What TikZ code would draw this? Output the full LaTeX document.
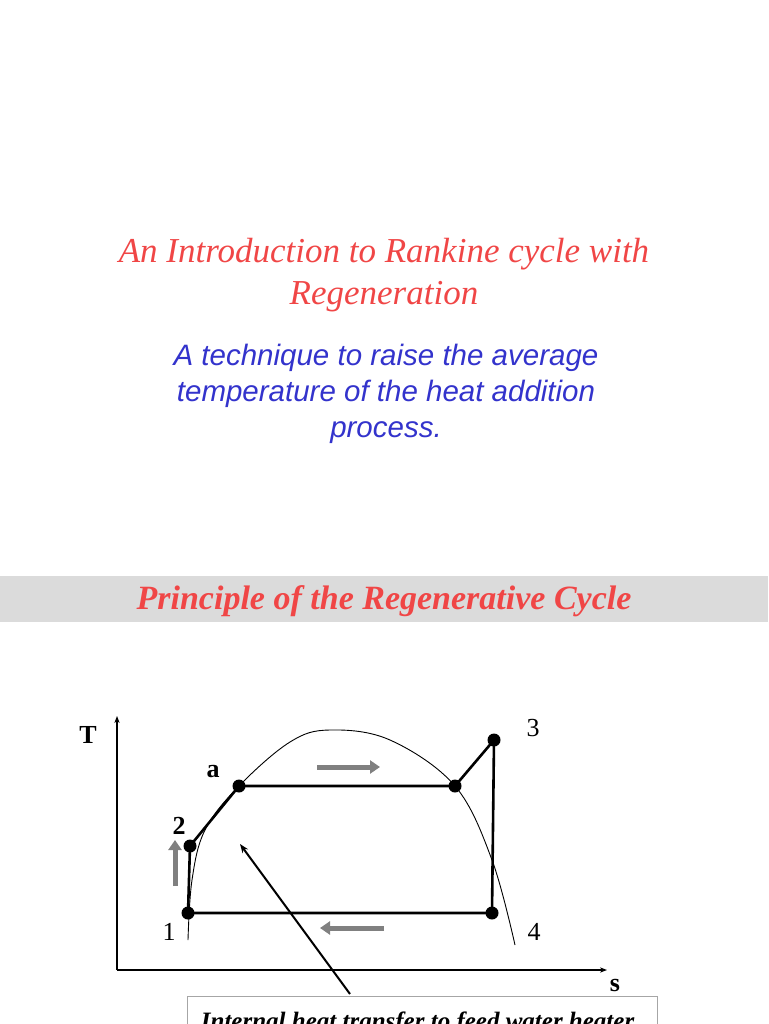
\documentclass[tikz,border=0pt]{standalone}
\usepackage{fontspec}
\setmainfont{Liberation Serif}
\newfontfamily\arialf{Liberation Sans}
\usetikzlibrary{arrows.meta}
\definecolor{tred}{RGB}{240,70,70}
\definecolor{tblue}{RGB}{51,51,204}
\begin{document}
\begin{tikzpicture}[x=1pt,y=-1pt,
  pt/.style={circle,fill=black,inner sep=0pt,minimum size=13pt},
  lab/.style={font=\fontsize{26}{28}\selectfont\bfseries},
  labn/.style={font=\fontsize{26}{28}\selectfont},
  garr/.style={draw=gray,line width=5pt,-{Triangle[length=10pt,width=13pt]}},
  cyc/.style={line width=2.6pt}]
\useasboundingbox (0,0) rectangle (768,1024);
\fill[gray!28] (0,576) rectangle (768,622);
\node[tred,font=\fontsize{35}{42}\selectfont\itshape,align=center] (t1) at (384,275) {An Introduction to Rankine cycle with\\Regeneration};
\node[tblue,font=\arialf\fontsize{29.5}{36}\selectfont\itshape,align=center] (t2) at (386,394) {A technique to raise the average\\temperature of the heat addition\\process.};
\node[tred,font=\fontsize{34}{38}\selectfont\bfseries\itshape] (t3) at (384,601) {Principle of the Regenerative Cycle};
% axes
\coordinate (o) at (117,970);
\coordinate (ty) at (117,716);
\coordinate (sx) at (607,970);
\draw[line width=1.5pt,-{Stealth[length=7pt]}] (o) -- (ty);
\draw[line width=1.5pt,-{Stealth[length=7pt]}] (o) -- (sx);
% dome
\draw[line width=0.9pt] plot[smooth,tension=0.6] coordinates {(188,940) (192,880) (205,830) (239,786) (290,742) (330,730) (390,740) (455,786) (492,860) (515,945)};
% cycle points
\node[pt] (p1) at (188,913) {};
\node[pt] (p2) at (190,846) {};
\node[pt] (pa) at (239,786) {};
\node[pt] (pb) at (455,786) {};
\node[pt] (p3) at (494,740) {};
\node[pt] (p4) at (492,913) {};
\draw[cyc] (p1.center) -- (p2.center) -- (pa.center) -- (pb.center) -- (p3.center) -- (p4.center) -- (p1.center);
% labels
\node[lab] (lT) at (88,735) {T};
\node[lab] (la) at (213,772) {a};
\node[lab] (l2) at (179,826) {2};
\node[labn] (l1) at (169,932) {1};
\node[labn] (l3) at (533,728) {3};
\node[labn] (l4) at (534,932) {4};
\node[lab] (ls) at (615,985) {s};
% gray arrows
\coordinate (g1a) at (317,767); \coordinate (g1b) at (380,767);
\coordinate (g2a) at (384,928); \coordinate (g2b) at (320,928);
\coordinate (g3a) at (175,886); \coordinate (g3b) at (175,840);
\draw[garr] (g1a) -- (g1b);
\draw[garr] (g2a) -- (g2b);
\draw[garr] (g3a) -- (g3b);
% box and arrow
\draw[gray!70,fill=white] (187,996) rectangle (657,1040);
\node[font=\fontsize{25}{28}\selectfont\bfseries\itshape,anchor=base] (bt) at (420,1029) {Internal heat transfer to feed water heater.};
\coordinate (ae) at (350,994);
\coordinate (ah) at (240,844);
\draw[line width=2pt,-{Stealth[length=9pt]}] (ae) -- (ah);
\end{tikzpicture}
\end{document}
